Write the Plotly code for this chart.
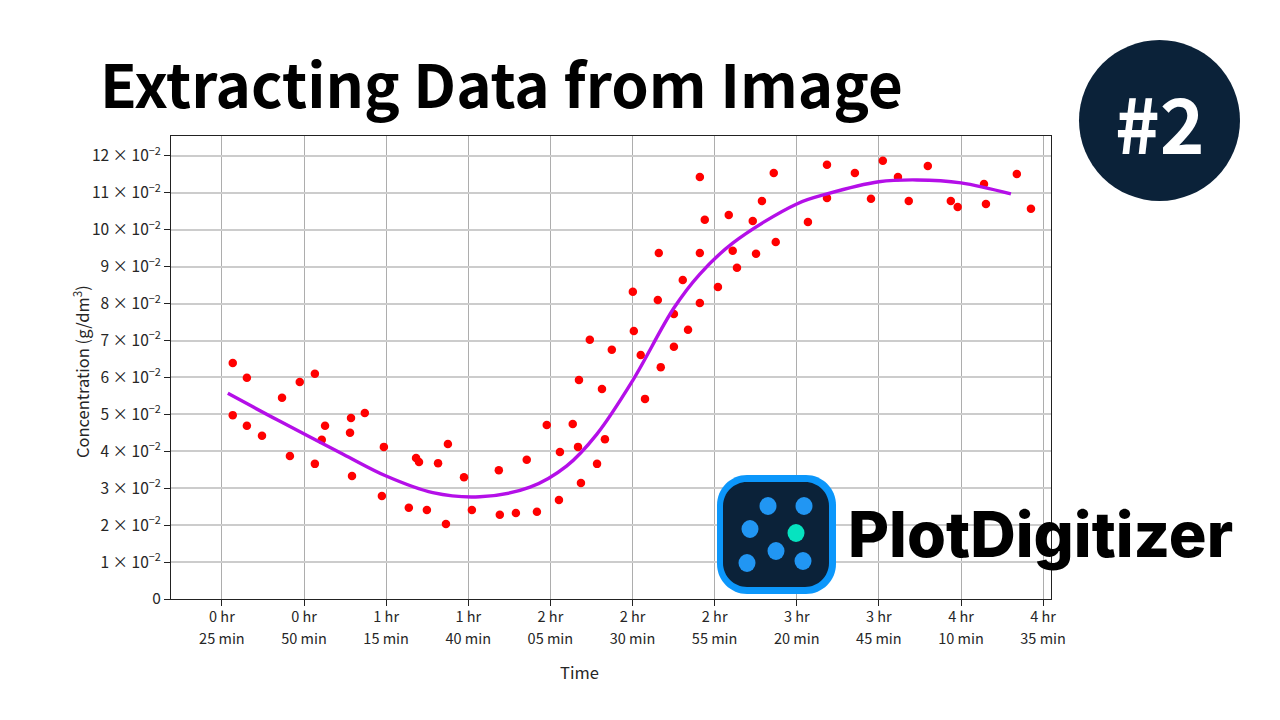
import plotly.graph_objects as go

# Measured data: time in minutes, concentration in units of 1e-2 g/dm3
scatter_x = [28.3,32.6,28.3,32.6,37.2,43.3,45.7,48.7,53.3,53.3,55.4,56.4,64.3,64.0,64.6,68.5,73.7,74.3,81.9,84.1,85.0,87.4,90.8,93.2,93.8,98.7,101.1,109.3,109.6,114.5,117.8,120.9,123.9,127.6,127.9,131.8,133.4,133.7,134.3,137.0,139.2,140.7,141.6,143.7,150.1,150.4,152.5,153.8,158.0,157.7,158.6,162.6,162.6,165.3,166.9,170.5,170.5,170.5,172.0,176.0,179.3,180.5,181.8,186.6,187.6,189.4,193.0,193.6,203.4,209.2,209.2,217.7,222.6,226.2,230.8,234.1,239.9,246.9,249.0,257.0,257.6,267.0,271.3]
scatter_y = [6.39,5.99,4.98,4.69,4.42,5.45,3.87,5.88,6.10,3.66,4.31,4.69,4.90,4.50,3.33,5.04,2.79,4.12,2.47,3.82,3.71,2.41,3.68,2.03,4.20,3.30,2.41,3.49,2.28,2.33,3.77,2.36,4.71,2.68,3.98,4.74,4.12,5.93,3.14,7.02,3.66,5.69,4.33,6.75,8.32,7.26,6.61,5.42,9.37,8.10,6.28,6.83,7.72,8.64,7.29,11.43,9.37,8.02,10.27,8.45,10.40,9.43,8.97,10.24,9.35,10.78,11.54,9.67,10.21,11.76,10.86,11.54,10.84,11.87,11.43,10.78,11.73,10.78,10.62,11.24,10.70,11.51,10.57]
curve_x = [26.8,42.1,61.9,75,89.2,103.5,118.8,129.9,139.1,150,162.6,170.5,180.5,200,209.2,225,236.6,250,265.2]
curve_y = [5.57,4.84,3.92,3.33,2.88,2.77,3.03,3.60,4.46,5.91,7.88,8.80,9.64,10.70,10.97,11.30,11.35,11.27,10.97]
x_ticks = [25,50,75,100,125,150,175,200,225,250,275]
x_line1 = ["0 hr","0 hr","1 hr","1 hr","2 hr","2 hr","2 hr","3 hr","3 hr","4 hr","4 hr"]
x_line2 = ["25 min","50 min","15 min","40 min","05 min","30 min","55 min","20 min","45 min","10 min","35 min"]
y_ticks = [0,1,2,3,4,5,6,7,8,9,10,11,12]
y_labels = ["0"] + [f"{v} × 10<sup>−2</sup>" for v in y_ticks[1:]]
logo_dots = [(768,506,"#2196F3"),(804,506,"#2196F3"),(750,529,"#2196F3"),(796,533,"#06E3C0"),(776,551,"#2196F3"),(747,563,"#2196F3"),(803,561,"#2196F3")]

FONT = "Noto Sans CJK JP"
W, H = 1280, 720
L, R, T, B = 171, 1051, 136, 599
px = lambda x: (x - L) / (R - L)
py = lambda y: (B - y) / (B - T)

def rrect(x0, y0, x1, y1, r):
    a, b, c, d = px(x0), px(x1), py(y0), py(y1)
    rx, ry = r / (R - L), r / (B - T)
    k = 0.45
    return (f"M{a+rx},{c} L{b-rx},{c} C{b-rx*k},{c} {b},{c-ry*k} {b},{c-ry} "
            f"L{b},{d+ry} C{b},{d+ry*k} {b-rx*k},{d} {b-rx},{d} "
            f"L{a+rx},{d} C{a+rx*k},{d} {a},{d+ry*k} {a},{d+ry} "
            f"L{a},{c-ry} C{a},{c-ry*k} {a+rx*k},{c} {a+rx},{c} Z")

shapes = [
    dict(type="circle", xref="paper", yref="paper", x0=px(1079), x1=px(1240), y0=py(201), y1=py(40),
         fillcolor="#0B2239", line_width=0),
    dict(type="path", xref="paper", yref="paper", path=rrect(717, 475, 836, 594, 30), fillcolor="#0C97FB", line_width=0),
    dict(type="path", xref="paper", yref="paper", path=rrect(723, 482, 829, 587, 24), fillcolor="#0B2239", line_width=0),
]
for x, y, c in logo_dots:
    shapes.append(dict(type="circle", xref="paper", yref="paper", x0=px(x-8.5), x1=px(x+8.5), y0=py(y+9), y1=py(y-9),
                       fillcolor=c, line_width=0))

fig = go.Figure()
fig.add_trace(go.Scatter(x=scatter_x, y=scatter_y, mode="markers", marker=dict(color="#FF0000", size=8.5), showlegend=False, cliponaxis=False))
fig.add_trace(go.Scatter(x=curve_x, y=curve_y, mode="lines", line=dict(color="#B40FE8", width=3.4, shape="spline", smoothing=1.0), showlegend=False))

axis_common = dict(showline=True, linecolor="#222222", linewidth=1.2, mirror=True, ticks="outside", ticklen=6,
                   tickwidth=1, tickcolor="#222222", zeroline=False)
# the tick font is a little larger than the glyphs so that the two-line labels get the reference's line spacing
x_labels = [f'<span style="font-size:14.5px">{a}</span><br><span style="font-size:14.5px">{b}</span>' for a, b in zip(x_line1, x_line2)]
fig.update_xaxes(range=[9.5, 277.4], tickmode="array", tickvals=x_ticks, ticktext=x_labels, tickangle=0,
                 showgrid=True, gridcolor="#ADADAD", gridwidth=1.2, ticklabelstandoff=-5,
                 tickfont=dict(family=FONT, size=17, color="#262626"), **axis_common)
fig.update_yaxes(range=[0, 12.54], tickmode="array", tickvals=y_ticks, ticktext=y_labels,
                 showgrid=True, gridcolor="#CCCCCC", gridwidth=1.5,
                 tickfont=dict(family=FONT, size=15.5, color="#262626"), **axis_common)

annotations = [
    dict(text="<b>Extracting Data from Image</b>", xref="paper", yref="paper", x=px(98), y=py(81), xanchor="left", yanchor="middle",
         showarrow=False, font=dict(family=FONT, size=60, color="#000000")),
    dict(text="<b>#2</b>", xref="paper", yref="paper", x=px(1160), y=py(121), xanchor="center", yanchor="middle",
         showarrow=False, font=dict(family=FONT, size=76, color="#FFFFFF")),
    dict(text="PlotDigitizer", xref="paper", yref="paper", x=px(846), y=py(534), xanchor="left", yanchor="middle",
         showarrow=False, font=dict(family="Inter", size=63, color="#000000", weight=800)),
    dict(text="Time", xref="paper", yref="paper", x=px(579), y=py(672), xanchor="center", yanchor="middle",
         showarrow=False, font=dict(family=FONT, size=16.5, color="#262626")),
    dict(text="Concentration (g/dm<sup>3</sup>)", xref="paper", yref="paper", x=px(81), y=py(372), xanchor="center", yanchor="middle",
         textangle=-90, showarrow=False, font=dict(family=FONT, size=16.5, color="#262626")),
]

fig.update_layout(width=W, height=H, margin=dict(l=L, r=W-R, t=T, b=H-B), paper_bgcolor="white", plot_bgcolor="white",
                  shapes=shapes, annotations=annotations, showlegend=False)
fig.write_html("out.html", config=dict(displayModeBar=False), post_script="document.body.style.margin='0';")
